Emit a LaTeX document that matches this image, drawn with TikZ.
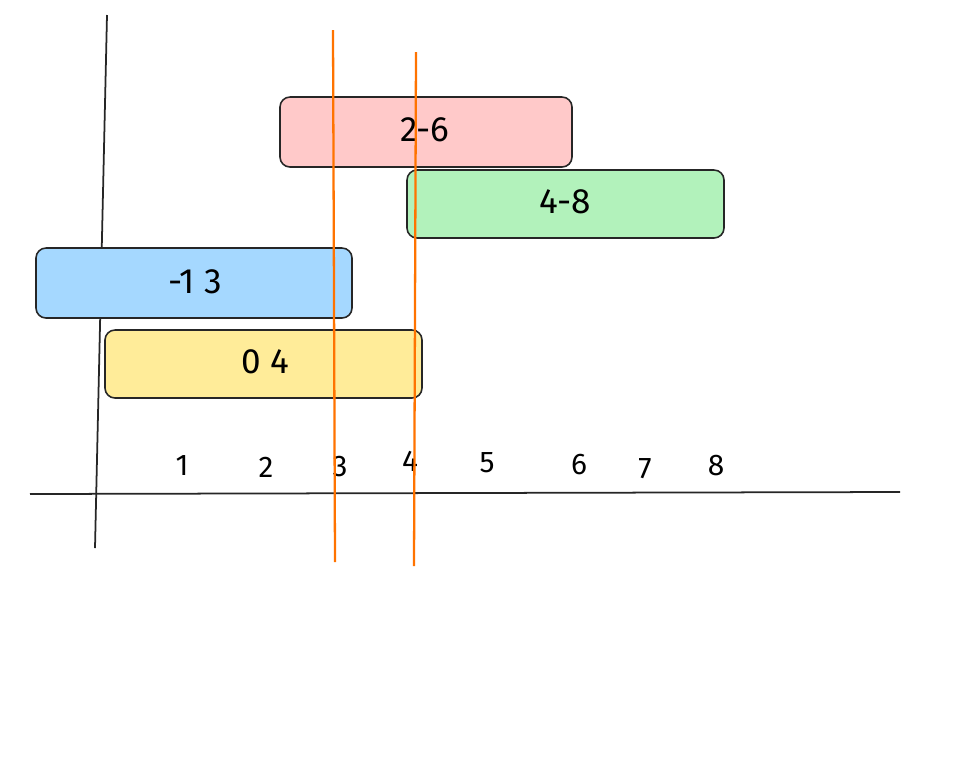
\documentclass[tikz,border=0pt]{standalone}
\usepackage{fontspec}
\setmainfont{Fira Sans}
\begin{document}
\begin{tikzpicture}[x=0.02cm,y=-0.02cm,
  bar/.style={draw=black!85,line width=0.9pt,rounded corners=0.2cm},
  lab/.style={font=\fontsize{20}{22}\selectfont},
  num/.style={font=\fontsize{17}{19}\selectfont},
  ax/.style={draw=black!85,line width=1pt},
  cut/.style={draw=orange!90!red,line width=1.3pt}]
\useasboundingbox (0,0) rectangle (970,762);
\coordinate (vt) at (107,15); \coordinate (vb) at (95,548);
\coordinate (hl) at (30,494); \coordinate (hr) at (900,492);
\draw[ax] (vt) -- (vb);
\draw[ax] (hl) -- (hr);
\draw[bar,fill={rgb,255:red,255;green,201;blue,201}] (280,97) rectangle (572,167);
\node[lab] (r) at (425,130) {2-6};
\draw[bar,fill={rgb,255:red,178;green,242;blue,187}] (407,170) rectangle (724,238);
\node[lab] (g) at (565,202) {4-8};
\draw[bar,fill={rgb,255:red,165;green,216;blue,255}] (36,248) rectangle (352,318);
\node[lab] (b) at (195,282) {-1 3};
\draw[bar,fill={rgb,255:red,255;green,236;blue,153}] (105,330) rectangle (422,398);
\node[lab] (y) at (265,362) {0 4};
\foreach \n/\x/\yy in {1/182/465,2/266/467,3/340/467,4/410/461,5/487/463,6/579/465,7/645/469,8/716/466}
  \node[num] (n\n) at (\x,\yy) {\n};
\coordinate (o1t) at (333,30); \coordinate (o1b) at (335,562);
\coordinate (o2t) at (416,52); \coordinate (o2b) at (414,566);
\draw[cut] (o1t) -- (o1b);
\draw[cut] (o2t) -- (o2b);
\end{tikzpicture}
\end{document}
